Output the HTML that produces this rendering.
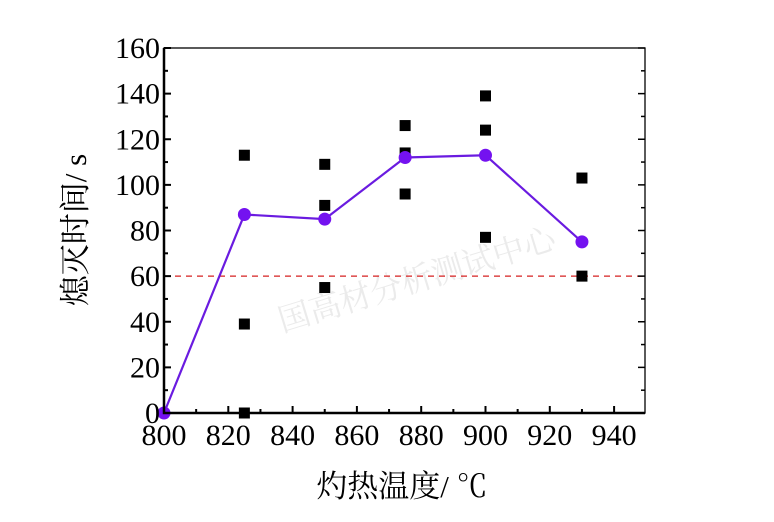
<!DOCTYPE html>
<html><head><meta charset="utf-8"><style>
html,body{margin:0;padding:0;background:#fff;width:774px;height:522px;overflow:hidden}
text{font-family:"Liberation Serif","Noto Serif CJK SC",serif}
</style></head><body>
<svg id="chart" width="774" height="522" xmlns="http://www.w3.org/2000/svg"></svg>
<script>
const xTicks=[800,820,840,860,880,900,920,940];
const yTicks=[0,20,40,60,80,100,120,140,160];
const scatterX=[825,825,825,850,850,850,875,875,875,900,900,900,930,930];
const scatterY=[113,39,0,109,91,55,126,114,96,139,124,77,103,60];
const lineX=[800,825,850,875,900,930];
const lineY=[0,87,85,112,113,75];
const threshold=[60];
const L=164,R=645,T=48,B=413;
const xs=v=>L+(v-800)*3.215;
const ys=v=>B-(v/160)*(B-T);
const svg=document.getElementById('chart');
const NS='http://www.w3.org/2000/svg';
function mk(tag,attrs,parent){const e=document.createElementNS(NS,tag);for(const k in attrs)e.setAttribute(k,attrs[k]);(parent||svg).appendChild(e);return e;}
let wm=mk('text',{x:420,y:290,'font-size':32,fill:'#ebebeb','text-anchor':'middle',transform:'rotate(-17 420 290)'});


wm.textContent='国高材分析测试中心';
let th=mk('line',{x1:L,x2:R,y1:ys(threshold[0]),y2:ys(threshold[0]),stroke:'#d62020','stroke-width':1.3,'stroke-dasharray':'6,5'});


scatterX.forEach((x,i)=>{let r=mk('rect',{x:xs(x)-5.5,y:ys(scatterY[i])-5.5,width:11,height:11,fill:'#000'});

});
let p=mk('polyline',{points:lineX.map((x,i)=>xs(x)+','+ys(lineY[i])).join(' '),fill:'none',stroke:'#6a1be0','stroke-width':2.2});


lineX.forEach((x,i)=>{let c=mk('circle',{cx:xs(x),cy:ys(lineY[i]),r:6.5,fill:'#7412f0'});

});
let fr=mk('rect',{x:L,y:T,width:R-L,height:B-T,fill:'none',stroke:'#000','stroke-width':1.3});


let ax=mk('path',{d:`M${L},${T}V${B}H${R}`,fill:'none',stroke:'#000','stroke-width':2.5});


for(let v=800;v<=940;v+=10){const major=v%20===0;mk('line',{x1:xs(v),x2:xs(v),y1:B,y2:B-(major?7:4),stroke:'#000','stroke-width':2});}
xTicks.forEach(v=>{let t=mk('text',{x:xs(v),y:B+32,'font-size':30,'text-anchor':'middle'});


t.textContent=v;});
for(let v=0;v<=160;v+=10){const major=v%20===0;mk('line',{x1:L,x2:L+(major?7:4),y1:ys(v),y2:ys(v),stroke:'#000','stroke-width':2});mk('line',{x1:R,x2:R-(major?7:4),y1:ys(v),y2:ys(v),stroke:'#000','stroke-width':1.5});}
yTicks.forEach(v=>{let t=mk('text',{x:L-4,y:ys(v)+10,'font-size':30,'text-anchor':'end'});


t.textContent=v;});
let xt=mk('text',{x:402,y:497,'font-size':31,'text-anchor':'middle'});


xt.textContent='灼热温度/ ℃';
let yt=mk('text',{x:0,y:0,'font-size':31,'text-anchor':'middle',transform:'translate(86 230) rotate(-90)'});


yt.textContent='熄灭时间/ s';
</script>
</body></html>
